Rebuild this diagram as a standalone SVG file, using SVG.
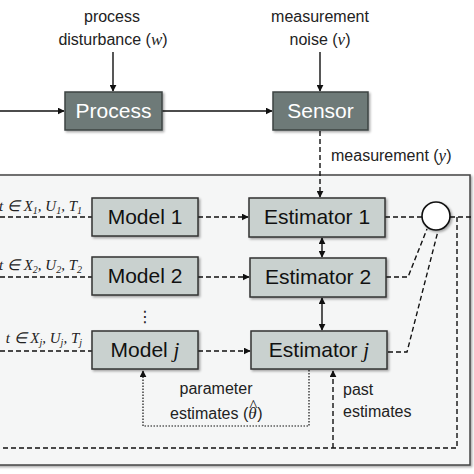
<svg xmlns="http://www.w3.org/2000/svg" width="474" height="474" viewBox="0 0 474 474">
<style>
.lbl{font-family:"Liberation Sans","DejaVu Sans",sans-serif;font-size:16px;fill:#222}
.m{font-family:"Liberation Serif",serif;font-style:italic;font-size:17px;fill:#222}
.ml{font-family:"Liberation Serif",serif;font-style:italic;font-size:15px;fill:#222}
.dark{fill:#6e7a78;stroke:#3c4443;stroke-width:1.5}
.lite{fill:#c9d1cf;stroke:#333;stroke-width:1.5}
.bt{font-family:"Liberation Sans","DejaVu Sans",sans-serif;font-size:21px;text-anchor:middle}
.solid{stroke:#111;stroke-width:1.4;fill:none}
.dash{stroke:#111;stroke-width:1.4;fill:none;stroke-dasharray:5 3}
.dot{stroke:#111;stroke-width:1.2;fill:none;stroke-dasharray:1.5 1.5}
</style>
<defs>
<marker id="ah" viewBox="0 0 10 10" refX="9" refY="5" markerWidth="7" markerHeight="7" markerUnits="userSpaceOnUse" orient="auto-start-reverse"><path d="M0,0 L10,5 L0,10 z" fill="#111"/></marker>
<filter id="sh" x="-10%" y="-10%" width="130%" height="130%"><feDropShadow dx="1.5" dy="1.5" stdDeviation="1" flood-color="#000" flood-opacity="0.35"/></filter>
</defs>
<rect width="474" height="474" fill="#fff"/>
<g id="panel"><rect x="-5" y="175" width="475" height="290" fill="#f5f6f6" stroke="#444" stroke-width="1.5" filter="url(#sh)"/></g>

<g id="connectors">
<line class="solid" x1="0" y1="111" x2="64" y2="111" marker-end="url(#ah)"/>
<line class="solid" x1="162" y1="111" x2="272" y2="111" marker-end="url(#ah)"/>
<line class="solid" x1="113" y1="52" x2="113" y2="91" marker-end="url(#ah)"/>
<line class="solid" x1="320" y1="52" x2="320" y2="91" marker-end="url(#ah)"/>
<line class="dash" x1="320" y1="131" x2="320" y2="197" marker-end="url(#ah)"/>
<line class="dash" x1="0" y1="217" x2="92" y2="217"/>
<line class="dash" x1="0" y1="277" x2="92" y2="277"/>
<line class="dash" x1="0" y1="351" x2="92" y2="351"/>
<line class="dash" x1="198" y1="217" x2="248" y2="217" marker-end="url(#ah)"/>
<line class="dash" x1="198" y1="277" x2="249" y2="277" marker-end="url(#ah)"/>
<line class="dash" x1="198" y1="351" x2="250" y2="351" marker-end="url(#ah)"/>
<line class="solid" x1="322" y1="238" x2="322" y2="257" marker-start="url(#ah)" marker-end="url(#ah)"/>
<line class="solid" x1="322" y1="298" x2="322" y2="330" marker-start="url(#ah)" marker-end="url(#ah)"/>
<line class="dash" x1="385" y1="217" x2="422" y2="217"/>
<polyline class="dash" points="386,277 408,277 427,229"/>
<polyline class="dash" points="388,352 407,352 438,231"/>
<line class="dash" x1="450" y1="217" x2="472" y2="217"/>
<polyline class="dash" points="457,217 457,448 0,448"/>
<line class="dash" x1="333" y1="448" x2="333" y2="371" marker-end="url(#ah)"/>
<polyline class="dot" points="309,370 309,426 143,426 143,371" marker-end="url(#ah)"/>
</g>

<g id="process"><rect class="dark" x="65" y="92" width="97" height="38" filter="url(#sh)"/><text class="bt" x="113.5" y="118" fill="#fff">Process</text></g>
<g id="sensor"><rect class="dark" x="273" y="92" width="95" height="38" filter="url(#sh)"/><text class="bt" x="320.5" y="118" fill="#fff">Sensor</text></g>
<g id="model1"><rect class="lite" x="92" y="198" width="106" height="38" filter="url(#sh)"/><text class="bt" x="145" y="224" fill="#111">Model 1</text></g>
<g id="model2"><rect class="lite" x="92" y="257" width="106" height="38" filter="url(#sh)"/><text class="bt" x="145" y="283" fill="#111">Model 2</text></g>
<g id="modelj"><rect class="lite" x="92" y="331" width="106" height="38" filter="url(#sh)"/><text class="bt" x="145" y="357" fill="#111">Model <tspan font-family="Liberation Serif" font-style="italic">j</tspan></text></g>
<g id="est1"><rect class="lite" x="249" y="198" width="136" height="39" filter="url(#sh)"/><text class="bt" x="317" y="224" fill="#111">Estimator 1</text></g>
<g id="est2"><rect class="lite" x="250" y="258" width="136" height="39" filter="url(#sh)"/><text class="bt" x="318" y="284" fill="#111">Estimator 2</text></g>
<g id="estj"><rect class="lite" x="251" y="331" width="136" height="38" filter="url(#sh)"/><text class="bt" x="319" y="357" fill="#111">Estimator <tspan font-family="Liberation Serif" font-style="italic">j</tspan></text></g>
<g id="sum"><circle cx="436" cy="216" r="14" fill="#fff" stroke="#111" stroke-width="1.6" filter="url(#sh)"/></g>

<g id="labels">
<text class="lbl" x="112" y="22" text-anchor="middle">process</text>
<text class="lbl" x="113" y="45" text-anchor="middle">disturbance (<tspan class="m">w</tspan>)</text>
<text class="lbl" x="320" y="22" text-anchor="middle">measurement</text>
<text class="lbl" x="320" y="45" text-anchor="middle">noise (<tspan class="m">v</tspan>)</text>
<text class="lbl" x="331" y="161">measurement (<tspan class="m">y</tspan>)</text>
<text class="ml" x="82" y="211" text-anchor="end">t ∈ X<tspan font-size="10" dy="3">1</tspan><tspan dy="-3">, U</tspan><tspan font-size="10" dy="3">1</tspan><tspan dy="-3">, T</tspan><tspan font-size="10" dy="3">1</tspan></text>
<text class="ml" x="82" y="270" text-anchor="end">t ∈ X<tspan font-size="10" dy="3">2</tspan><tspan dy="-3">, U</tspan><tspan font-size="10" dy="3">2</tspan><tspan dy="-3">, T</tspan><tspan font-size="10" dy="3">2</tspan></text>
<text class="ml" x="82" y="343" text-anchor="end">t ∈ X<tspan font-size="10" dy="3">j</tspan><tspan dy="-3">, U</tspan><tspan font-size="10" dy="3">j</tspan><tspan dy="-3">, T</tspan><tspan font-size="10" dy="3">j</tspan></text>
<text class="lbl" x="145" y="322" text-anchor="middle" font-size="18">⋮</text>
<text class="lbl" x="216" y="394" text-anchor="middle">parameter</text>
<text class="lbl" x="170" y="419">estimates (<tspan class="m">θ</tspan><tspan class="m" font-size="11" dx="-7.5" dy="-8">^</tspan><tspan dx="1" dy="8">)</tspan></text>
<text class="lbl" x="343" y="395">past</text>
<text class="lbl" x="343" y="417">estimates</text>
</g>
</svg>
